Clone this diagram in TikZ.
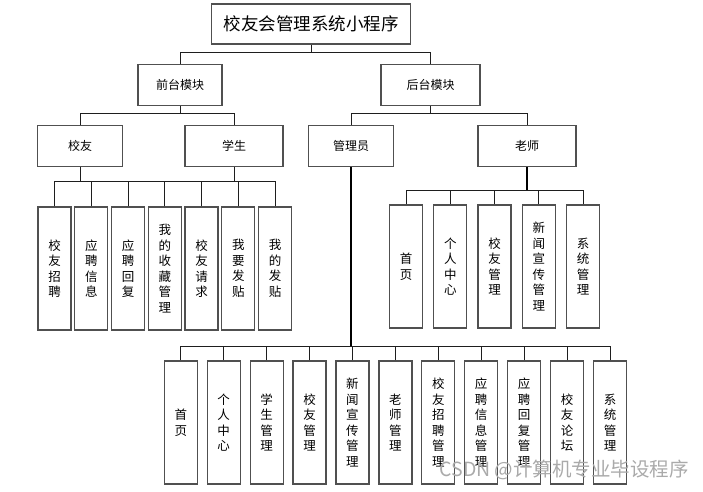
\documentclass[tikz,border=0pt]{standalone}
\usepackage{fontspec}
\usepackage{xcolor}
\usepackage{tikz}
\setmainfont{Noto Sans CJK SC}
\definecolor{boxline}{RGB}{80,80,80}
\definecolor{linkline}{RGB}{30,30,30}
\definecolor{markgray}{RGB}{170,170,170}

\tikzset{
    topbox/.style={draw=boxline, line width=1.2pt, fill=white, minimum width=199pt, minimum height=40pt, inner sep=0pt, font=\fontsize{17.5}{20}\selectfont},
    midbox/.style={draw=boxline, line width=1.2pt, fill=white, minimum height=41pt, inner sep=0pt, font=\fontsize{12}{14}\selectfont},
    leafbox/.style={draw=boxline, line width=1.2pt, fill=white, minimum width=33pt, minimum height=123pt, inner sep=0pt, align=center, font=\fontsize{12.5}{15.5}\selectfont},
    link/.style={draw=linkline, line width=0.9pt},
    boldlink/.style={draw=black, line width=2.4pt}
}

\begin{document}
\begin{tikzpicture}[x=1pt, y=-1pt]
\useasboundingbox (0,0) rectangle (703,491);

\node[topbox] (title) at (311,24) {校友会管理系统小程序};

\node[midbox, minimum width=84pt] (front) at (180,85) {前台模块};
\node[midbox, minimum width=99pt] (back) at (430.5,85) {后台模块};

\node[midbox, minimum width=85pt] (alumni) at (80,146) {校友};
\node[midbox, minimum width=98pt] (student) at (234,146) {学生};
\node[midbox, minimum width=85pt] (admin) at (351,146) {管理员};
\node[midbox, minimum width=98pt] (teacher) at (527,146) {老师};

\coordinate (topbus) at (0,52);
\coordinate (frontbus) at (0,113);
\coordinate (backbus) at (0,113);
\coordinate (userbus) at (0,181);
\coordinate (teacherbus) at (0,190);
\coordinate (adminbus) at (0,346);

% front side leaves
\foreach \t [count=\i] in {校\\友\\招\\聘, 应\\聘\\信\\息, 应\\聘\\回\\复, 我\\的\\收\\藏\\管\\理,
                            校\\友\\请\\求, 我\\要\\发\\贴, 我\\的\\发\\贴}
{
    \node[leafbox] (user\i) at ({54.5+36.75*(\i-1)},268.5) {\t};
    \draw[link] (user\i.north) -- (user\i.north |- userbus);
}

% teacher leaves
\foreach \t [count=\i] in {首\\页, 个\\人\\中\\心, 校\\友\\管\\理, 新\\闻\\宣\\传\\管\\理, 系\\统\\管\\理}
{
    \node[leafbox] (tch\i) at ({406+44.25*(\i-1)},266.5) {\t};
    \draw[link] (tch\i.north) -- (tch\i.north |- teacherbus);
}

% admin leaves
\foreach \t [count=\i] in {首\\页, 个\\人\\中\\心, 学\\生\\管\\理, 校\\友\\管\\理, 新\\闻\\宣\\传\\管\\理,
                            老\\师\\管\\理, 校\\友\\招\\聘\\管\\理, 应\\聘\\信\\息\\管\\理,
                            应\\聘\\回\\复\\管\\理, 校\\友\\论\\坛, 系\\统\\管\\理}
{
    \node[leafbox] (adm\i) at ({180.8+42.92*(\i-1)},422.5) {\t};
    \draw[link] (adm\i.north) -- (adm\i.north |- adminbus);
}

\draw[link] (title.south) -- (title.south |- topbus);
\draw[link] (front.north |- topbus) -- (back.north |- topbus);
\draw[link] (front.north) -- (front.north |- topbus);
\draw[link] (back.north) -- (back.north |- topbus);

\draw[link] (front.south) -- (front.south |- frontbus);
\draw[link] (alumni.north |- frontbus) -- (student.north |- frontbus);
\draw[link] (alumni.north) -- (alumni.north |- frontbus);
\draw[link] (student.north) -- (student.north |- frontbus);

\draw[link] (back.south) -- (back.south |- backbus);
\draw[link] (admin.north |- backbus) -- (teacher.north |- backbus);
\draw[link] (admin.north) -- (admin.north |- backbus);
\draw[link] (teacher.north) -- (teacher.north |- backbus);

\draw[link] (alumni.south) -- (alumni.south |- userbus);
\draw[link] (student.south) -- (student.south |- userbus);
\draw[link] (user1.north |- userbus) -- (user7.north |- userbus);

\draw[boldlink] (teacher.south) -- (teacher.south |- teacherbus);
\draw[link] (tch1.north |- teacherbus) -- (tch5.north |- teacherbus);

\draw[boldlink] (admin.south) -- (admin.south |- adminbus);
\draw[link] (adm1.north |- adminbus) -- (adm11.north |- adminbus);

\node[text=markgray, font=\fontsize{19.5}{21}\selectfont, anchor=west] (watermark) at (436,470) {CSDN @计算机专业毕设程序};

\end{tikzpicture}
\end{document}
